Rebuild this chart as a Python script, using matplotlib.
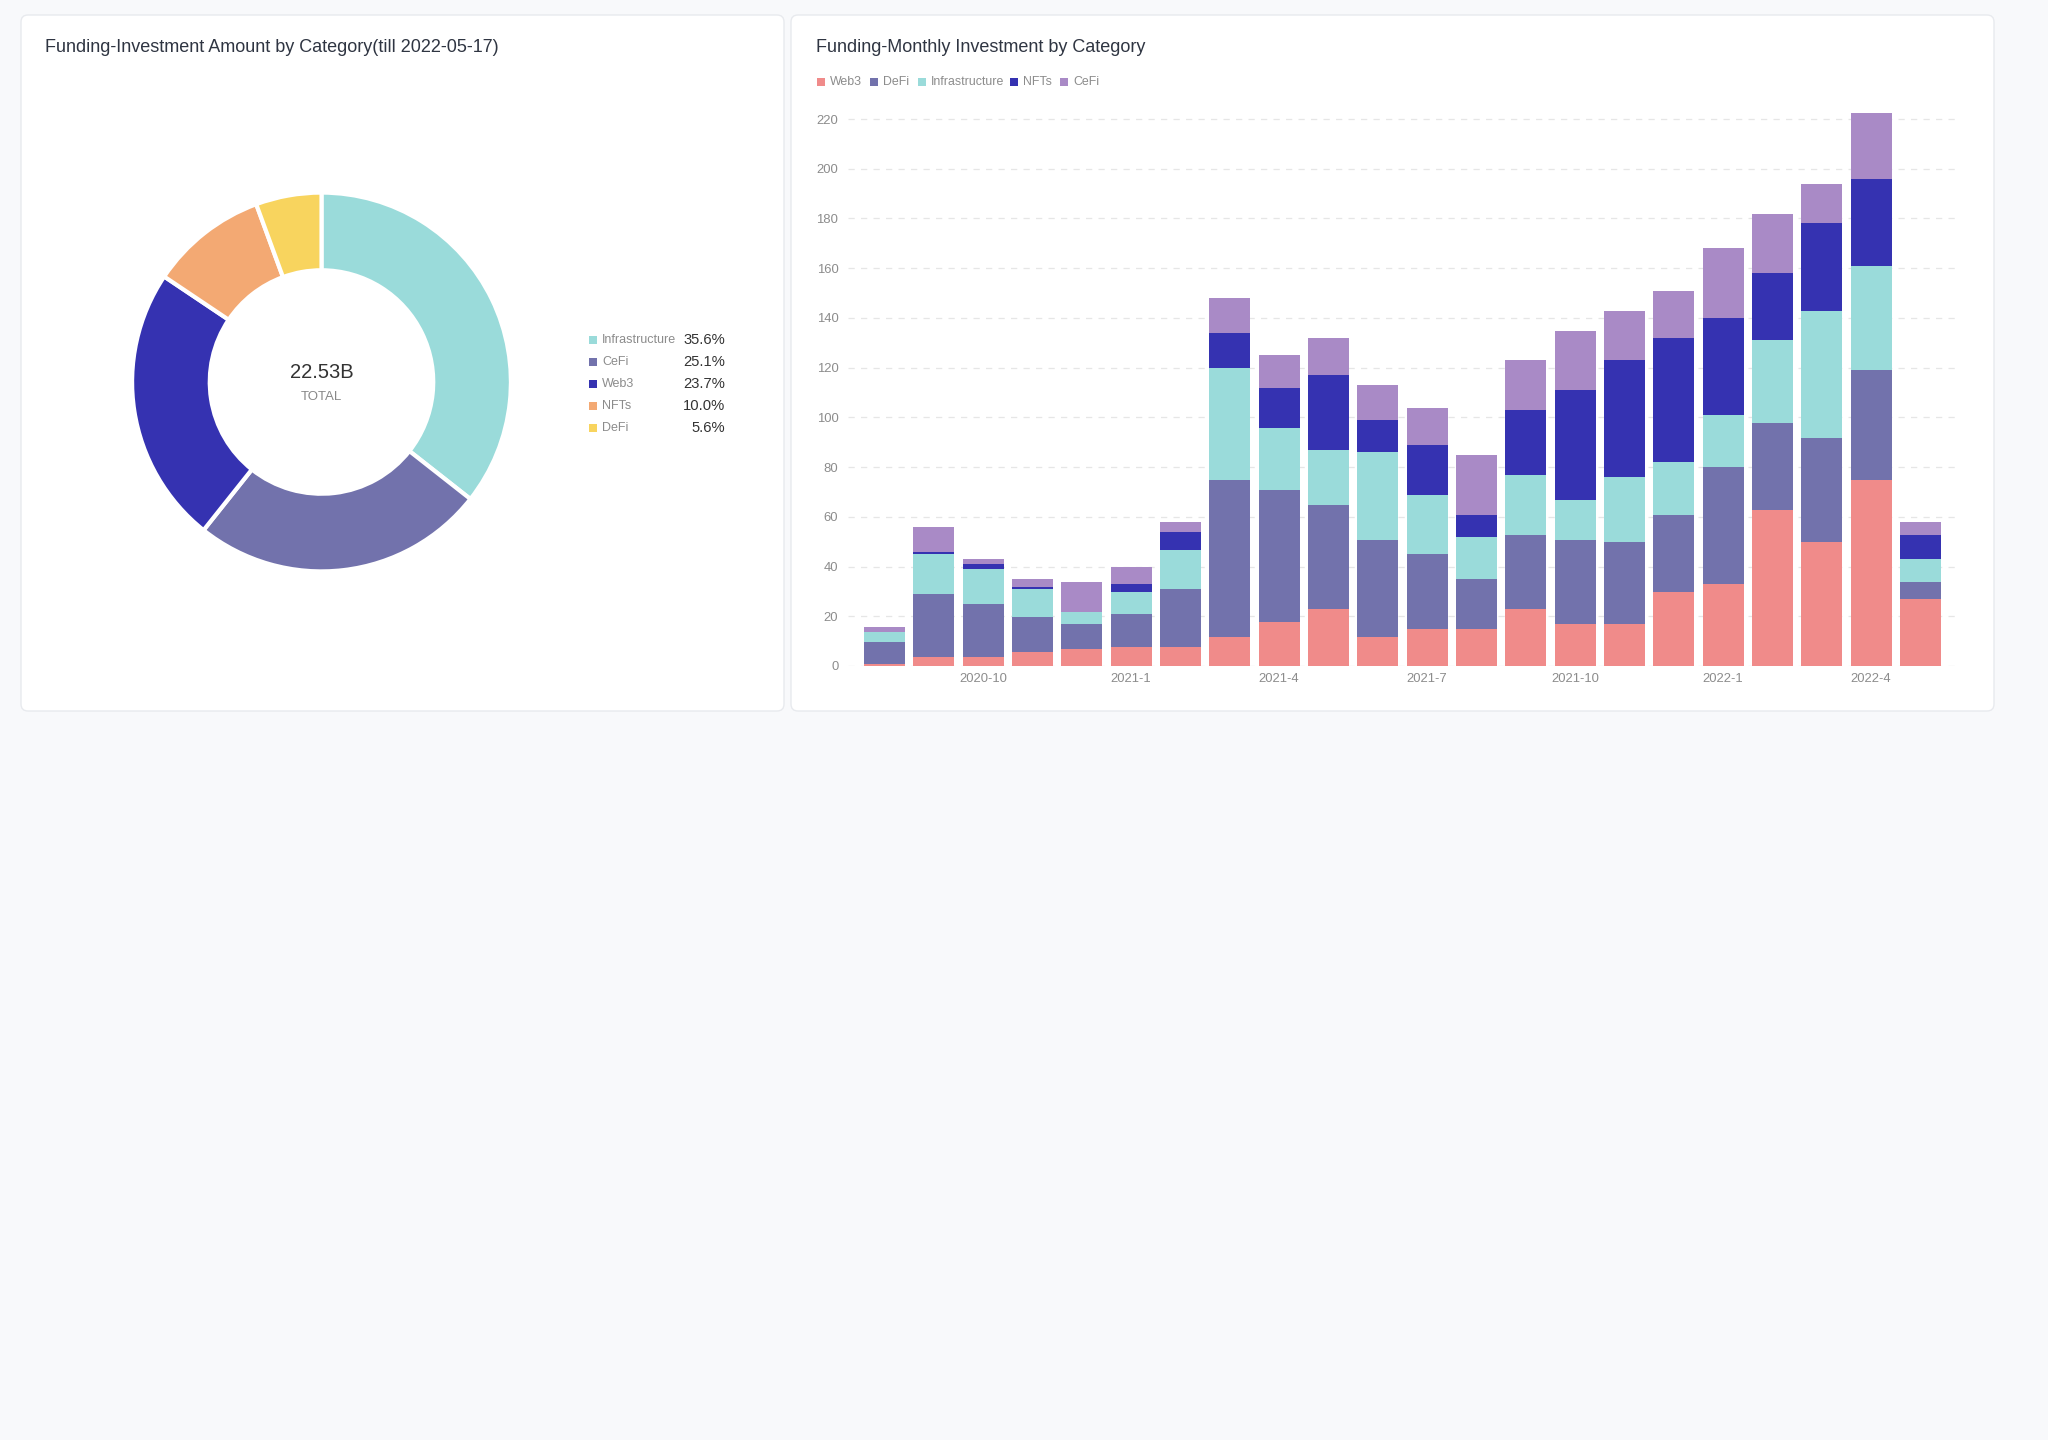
import matplotlib
matplotlib.use("Agg")
import matplotlib.pyplot as plt
from matplotlib.patches import FancyBboxPatch, Rectangle

plt.rcParams['font.family'] = ['Liberation Sans', 'DejaVu Sans']

# Donut data (share of total, %)
donut_labels = ["Infrastructure", "CeFi", "Web3", "NFTs", "DeFi"]
donut_pct = [35.6, 25.1, 23.7, 10.0, 5.6]
donut_colors = ["#9adbda", "#7272ac", "#3532b1", "#f3a973", "#f8d45e"]
total_label = "22.53B"

# Monthly stacked bars
months = ["2020-8", "2020-9", "2020-10", "2020-11", "2020-12", "2021-1", "2021-2",
          "2021-3", "2021-4", "2021-5", "2021-6", "2021-7", "2021-8", "2021-9",
          "2021-10", "2021-11", "2021-12", "2022-1", "2022-2", "2022-3", "2022-4", "2022-5"]
web3 = [0.8, 3.6, 3.6, 5.7, 6.9, 7.7, 7.7, 11.7, 17.7, 23.0, 11.7, 14.9, 14.9, 23.0,
        16.9, 16.9, 29.9, 33.0, 62.9, 49.9, 74.9, 26.9]
defi = [8.9, 25.5, 21.4, 14.0, 10.0, 13.3, 23.3, 63.2, 53.2, 41.9, 39.0, 30.3, 20.1, 29.7,
        33.8, 33.0, 30.9, 47.1, 35.0, 41.9, 44.3, 6.9]
infra = [4.1, 16.1, 14.1, 11.3, 4.9, 8.9, 15.8, 45.0, 24.8, 22.1, 35.5, 23.6, 16.9, 24.1,
         16.1, 26.1, 21.3, 20.9, 33.3, 51.1, 41.7, 9.2]
nfts = [0, 0.8, 2.0, 0.9, 0, 3.1, 7.2, 14.1, 16.1, 30.1, 12.8, 20.2, 8.9, 26.3,
        44.4, 47.2, 49.9, 39.1, 26.9, 35.4, 35.0, 9.7]
cefi = [2.0, 10.0, 1.9, 3.1, 12.0, 6.9, 4.0, 14.1, 13.3, 14.9, 14.1, 14.8, 24.1, 20.1,
        23.6, 19.7, 18.9, 28.0, 23.8, 15.6, 26.4, 5.3]
bar_series = ["Web3", "DeFi", "Infrastructure", "NFTs", "CeFi"]
bar_colors = ["#f08b8a", "#7272ac", "#9adbda", "#3532b1", "#a98ac6"]

W, H = 2048, 1440
fig = plt.figure(figsize=(W / 100, H / 100), dpi=100)
fig.patch.set_facecolor("#f8f9fb")

# background layer in pixel coordinates (cards, titles, legends)
bg = fig.add_axes([0, 0, 1, 1], zorder=0)
bg.set_xlim(0, W)
bg.set_ylim(H, 0)
bg.axis("off")

for x0, x1 in [(21, 784), (791, 1994)]:
    bg.add_patch(FancyBboxPatch((x0, 15), x1 - x0, 696, boxstyle="round,pad=0,rounding_size=7",
                                facecolor="white", edgecolor="#e8eaee", linewidth=1))

title_color = "#2f3542"
bg.text(45, 47, "Funding-Investment Amount by Category(till 2022-05-17)", fontsize=13.0,
        color=title_color, va="center", ha="left")
bg.text(816, 47, "Funding-Monthly Investment by Category", fontsize=13.0,
        color=title_color, va="center", ha="left")

# donut
cx, cy, r_out = 321.5, 382, 189.4
half = 200
dax = fig.add_axes([(cx - half) / W, (H - cy - half) / H, 2 * half / W, 2 * half / H], zorder=1)
dax.pie(donut_pct, colors=donut_colors, startangle=90, counterclock=False, radius=1,
        wedgeprops=dict(width=0.41, edgecolor="white", linewidth=3))
lim = half / r_out
dax.set_xlim(-lim, lim)
dax.set_ylim(-lim, lim)
dax.axis("off")

bg.text(cx, 372, total_label, fontsize=14.5, color="#333333", ha="center", va="center")
bg.text(cx, 397, "TOTAL", fontsize=9.5, color="#888888", ha="center", va="center")

# donut legend
for i, (lab, pct, col) in enumerate(zip(donut_labels, donut_pct, donut_colors)):
    y = 340 + i * 22
    bg.add_patch(Rectangle((589, y - 4), 8, 8, facecolor=col, edgecolor="none"))
    bg.text(602, y, lab, fontsize=9.0, color="#8c8c8c", ha="left", va="center")
    bg.text(725, y, f"{pct:.1f}%", fontsize=10.6, color="#333333", ha="right", va="center")

# bar legend
leg_x = [817, 870, 918, 1010, 1060]
for lx, lab, col in zip(leg_x, bar_series, bar_colors):
    bg.add_patch(Rectangle((lx, 78), 8, 8, facecolor=col, edgecolor="none"))
    bg.text(lx + 13, 82, lab, fontsize=8.9, color="#8c8c8c", ha="left", va="center")

# stacked bar chart
ax_l, ax_r, y0_px, ppu, ytop = 848, 1958, 666, 547 / 220, 225
bax = fig.add_axes([ax_l / W, (H - y0_px) / H, (ax_r - ax_l) / W, ytop * ppu / H], zorder=1)
bax.patch.set_alpha(0)
x = list(range(len(months)))
bottom = [0.0] * len(months)
for vals, col, lab in zip([web3, defi, infra, nfts, cefi], bar_colors, bar_series):
    bax.bar(x, vals, bottom=bottom, width=0.83, color=col, label=lab, linewidth=0)
    bottom = [b + v for b, v in zip(bottom, vals)]

bax.set_xlim(-0.74, len(months) - 1 + 0.76)
bax.set_ylim(0, ytop)
bax.set_yticks(range(0, 221, 20))
tick_idx = list(range(2, len(months), 3))
bax.set_xticks(tick_idx)
bax.set_xticklabels([months[i] for i in tick_idx])
bax.tick_params(axis="both", length=0, labelsize=9.4, labelcolor="#8c8c8c")
bax.tick_params(axis="y", pad=7)
bax.tick_params(axis="x", pad=5)
bax.grid(axis="y", color="#e6e6e6", linestyle=(0, (5, 5)), linewidth=0.9)
bax.set_axisbelow(True)
for s in bax.spines.values():
    s.set_visible(False)

fig.savefig("out.png", dpi=100, facecolor=fig.get_facecolor())
